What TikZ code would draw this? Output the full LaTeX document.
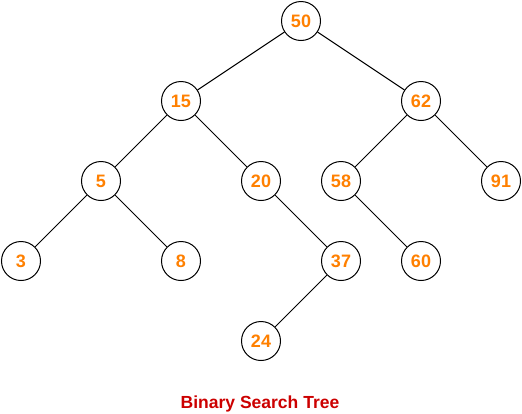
\documentclass[tikz,border=0pt]{standalone}
\usepackage{fontspec}
\setmainfont{Liberation Sans}
\begin{document}
\begin{tikzpicture}[x=1pt,y=-1pt,
  tnode/.style={circle,draw=black,line width=1pt,fill=white,minimum size=39pt,inner sep=0pt,font=\bfseries\fontsize{18}{20}\selectfont,text=orangeT},
  edge/.style={draw=black,line width=1pt}]
\definecolor{orangeT}{HTML}{FF8000}
\definecolor{redT}{HTML}{CC0000}
\useasboundingbox (0,0) rectangle (522,413);
\node[tnode] (n50) at (301,21) {50};
\node[tnode] (n15) at (181,101) {15};
\node[tnode] (n62) at (421,101) {62};
\node[tnode] (n5) at (101,181) {5};
\node[tnode] (n20) at (261,181) {20};
\node[tnode] (n58) at (341,181) {58};
\node[tnode] (n91) at (501,181) {91};
\node[tnode] (n3) at (21,261) {3};
\node[tnode] (n8) at (181,261) {8};
\node[tnode] (n37) at (341,261) {37};
\node[tnode] (n60) at (421,261) {60};
\node[tnode] (n24) at (261,341) {24};
\draw[edge] (n50) -- (n15);
\draw[edge] (n50) -- (n62);
\draw[edge] (n15) -- (n5);
\draw[edge] (n15) -- (n20);
\draw[edge] (n62) -- (n58);
\draw[edge] (n62) -- (n91);
\draw[edge] (n5) -- (n3);
\draw[edge] (n5) -- (n8);
\draw[edge] (n20) -- (n37);
\draw[edge] (n58) -- (n60);
\draw[edge] (n37) -- (n24);
\node[font=\bfseries\fontsize{17.5}{20}\selectfont,text=redT] (cap) at (260,404) {Binary Search Tree};
\end{tikzpicture}
\end{document}
